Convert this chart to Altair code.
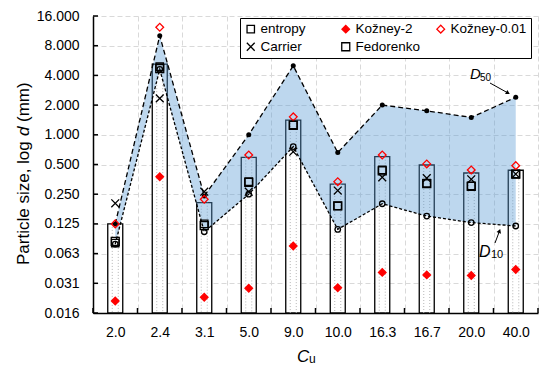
import altair as alt
import pandas as pd

# ---- data ----
categories = ["2.0", "2.4", "3.1", "5.0", "9.0", "10.0", "16.3", "16.7", "20.0", "40.0"]
bar_top = [0.125, 5.2, 0.205, 0.59, 1.41, 0.317, 0.60, 0.494, 0.41, 0.437]
d50 = [0.125, 10.1, 0.24, 1.0, 5.0, 0.66, 2.0, 1.75, 1.5, 2.4]
d10 = [0.078, 4.6, 0.104, 0.25, 0.76, 0.11, 0.20, 0.15, 0.129, 0.119]
entropy = [0.080, 4.9, 0.125, 0.335, 1.26, 0.19, 0.44, 0.323, 0.304, 0.40]
kozeny_2 = [0.0207, 0.376, 0.0226, 0.0278, 0.0746, 0.0282, 0.0403, 0.038, 0.0375, 0.0432]
kozeny_001 = [0.125, 12.3, 0.222, 0.624, 1.52, 0.335, 0.624, 0.507, 0.44, 0.487]
carrier = [0.202, 2.34, 0.265, 0.265, 0.674, 0.272, 0.371, 0.363, 0.354, 0.40]
fedorenko = [0.083, 4.7, 0.12, 0.33, 1.25, 0.19, 0.43, 0.32, 0.30, 0.40]
y_ticks = [0.015625, 0.03125, 0.0625, 0.125, 0.25, 0.5, 1, 2, 4, 8, 16]
series_names = ["entropy", "Kožney-2", "Kožney-0.01", "Carrier", "Fedorenko"]

FONT = "Liberation Sans"

df = pd.DataFrame({"Cu": categories, "bar": bar_top, "d50": d50, "d10": d10})
df["base"] = y_ticks[0]

series_vals = [entropy, kozeny_2, kozeny_001, carrier, fedorenko]
mk = pd.concat(
    [pd.DataFrame({"Cu": categories, "value": v, "series": s}) for s, v in zip(series_names, series_vals)],
    ignore_index=True,
)
ytick_df = pd.DataFrame({"v": y_ticks})

W, H = 445, 297
STEP = W / len(categories)

y_scale = alt.Scale(type="log", base=2, domain=[y_ticks[0], y_ticks[-1]], nice=False)
y_axis = alt.Axis(
    values=y_ticks, format=".3f", title=None, ticks=False, labelPadding=14,
    labelFont=FONT, labelFontSize=14, labelColor="black",
    domainColor="black", domainWidth=1.5,
    grid=True, gridColor="#d9d9d9", gridDash=[5, 3], gridWidth=1,
)
x_scale = alt.Scale(domain=categories, paddingInner=0, paddingOuter=0)
x_axis = alt.Axis(
    title=None, labelAngle=0, ticks=False, labelPadding=12, tickBand="extent",
    labelFont=FONT, labelFontSize=14, labelColor="black",
    domainColor="black", domainWidth=1.5,
    grid=True, gridColor="#d9d9d9", gridDash=[5, 3], gridWidth=1,
)


def X():
    return alt.X("Cu:N", sort=categories, scale=x_scale, axis=x_axis)


def Y(field):
    return alt.Y(f"{field}:Q", scale=y_scale, axis=y_axis)


base = alt.Chart(df)

bars = base.mark_bar(size=15, fill="white", stroke="black", strokeWidth=1.3).encode(
    x=X(), y=Y("bar"), y2="base:Q"
)
dots_l = base.mark_rule(color="#b5b5b5", strokeDash=[1, 2], strokeWidth=1, xOffset=-3).encode(
    x=X(), y=Y("bar"), y2="base:Q"
)
dots_r = base.mark_rule(color="#b5b5b5", strokeDash=[1, 2], strokeWidth=1, xOffset=3).encode(
    x=X(), y=Y("bar"), y2="base:Q"
)
band = base.mark_area(color="#5b9bd5", opacity=0.4).encode(x=X(), y=Y("d10"), y2="d50:Q")
line50 = base.mark_line(color="black", strokeDash=[5, 3], strokeWidth=1.3).encode(x=X(), y=Y("d50"))
line10 = base.mark_line(color="black", strokeDash=[3, 2], strokeWidth=1.3).encode(x=X(), y=Y("d10"))
pts50 = base.mark_point(shape="circle", filled=True, color="black", size=25, opacity=1).encode(
    x=X(), y=Y("d50")
)
pts10 = base.mark_point(shape="circle", filled=False, color="black", size=30, strokeWidth=1.3, opacity=1).encode(
    x=X(), y=Y("d10")
)

# inward tick marks (axis decoration)
xticks_l = base.mark_rule(color="black", strokeWidth=1.5, xOffset=-STEP / 2).encode(
    x=X(), y=alt.value(H), y2=alt.value(H - 5)
)
xtick_r = alt.Chart(pd.DataFrame({"Cu": [categories[-1]]})).mark_rule(
    color="black", strokeWidth=1.5, xOffset=STEP / 2
).encode(x=X(), y=alt.value(H), y2=alt.value(H - 5))
yticks = alt.Chart(ytick_df).mark_rule(color="black", strokeWidth=1.5).encode(
    y=alt.Y("v:Q", scale=y_scale, axis=y_axis), x=alt.value(0), x2=alt.value(5)
)

xpath = "M-1,-1L1,1M1,-1L-1,1"
markers = alt.Chart(mk).mark_point(opacity=1, strokeWidth=1.3).encode(
    x=X(),
    y=Y("value"),
    shape=alt.Shape(
        "series:N",
        scale=alt.Scale(domain=series_names, range=["square", "diamond", "diamond", xpath, "square"]),
        legend=alt.Legend(
            title=None, orient="none", legendX=147, legendY=2, columns=3, direction="horizontal",
            gridAlign="all", columnPadding=2, rowPadding=3, padding=4,
            strokeColor="black", fillColor="white",
            labelFont=FONT, labelFontSize=13.5, labelColor="black", labelOffset=3,
            symbolStrokeWidth=1.3,
        ),
    ),
    stroke=alt.Stroke(
        "series:N", scale=alt.Scale(domain=series_names, range=["black", "red", "red", "black", "black"])
    ),
    fill=alt.Fill(
        "series:N",
        scale=alt.Scale(domain=series_names, range=["transparent", "red", "transparent", "transparent", "transparent"]),
    ),
    size=alt.Size("series:N", scale=alt.Scale(domain=series_names, range=[55, 64, 75, 45, 45])),
    order=alt.Order("series:N"),
)


def label(text, x, y, size, italic=False, angle=0, align="left", baseline="alphabetic"):
    return alt.Chart(pd.DataFrame({"t": [text]})).mark_text(
        font=FONT, fontSize=size, fontStyle="italic" if italic else "normal", color="black",
        angle=angle, align=align, baseline=baseline,
    ).encode(text="t:N", x=alt.value(x), y=alt.value(y))


titles = [
    label("Particle size, log", -69, 249, 17, angle=270, baseline="middle"),
    label("d", -69, 120, 17, italic=True, angle=270, baseline="middle"),
    label("(mm)", -69, 106, 17, angle=270, baseline="middle"),
    label("C", 204, 346, 17, italic=True),
    label("u", 216, 347, 12),
    label("D", 377, 63, 15, italic=True),
    label("50", 387, 65, 10),
    label("D", 386, 241, 16, italic=True),
    label("10", 398, 242, 11),
]

arrow_df = pd.DataFrame({"k": [0]})
arrow50 = alt.Chart(arrow_df).mark_rule(color="black", strokeWidth=1).encode(
    x=alt.value(397), y=alt.value(67), x2=alt.value(415), y2=alt.value(77)
)
head50 = alt.Chart(arrow_df).mark_point(shape="triangle-up", filled=True, color="black", size=22, angle=120, opacity=1).encode(
    x=alt.value(415), y=alt.value(77)
)
arrow10 = alt.Chart(arrow_df).mark_rule(color="black", strokeWidth=1).encode(
    x=alt.value(402), y=alt.value(227), x2=alt.value(406.5), y2=alt.value(215)
)
head10 = alt.Chart(arrow_df).mark_point(shape="triangle-up", filled=True, color="black", size=22, angle=21, opacity=1).encode(
    x=alt.value(406.5), y=alt.value(215)
)

chart = alt.layer(
    bars, dots_l, dots_r, band, xticks_l, xtick_r, yticks, line50, line10, pts50, pts10, markers,
    arrow50, head50, arrow10, head10, *titles,
).properties(
    width=W, height=H,
    autosize=alt.AutoSizeParams(type="none"),
    padding={"left": 85, "top": 8, "right": 4, "bottom": 56},
).configure_view(stroke=None).resolve_scale(
    shape="shared", stroke="shared", fill="shared", size="shared"
)

chart.save("out.html", embed_options={"renderer": "svg", "actions": False})
